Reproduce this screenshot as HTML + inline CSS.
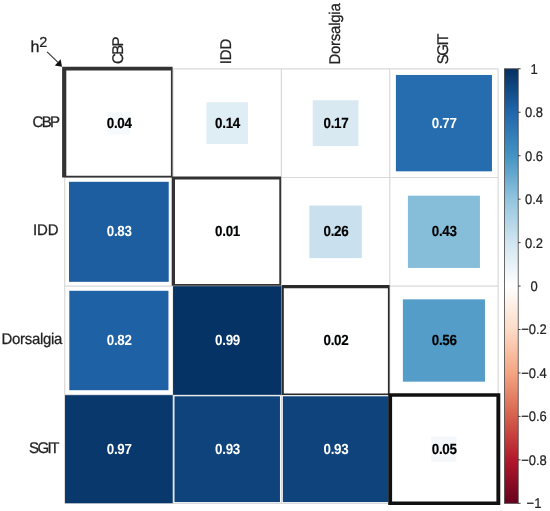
<!DOCTYPE html><html><head><meta charset="utf-8"><title>corrplot</title><style>html,body{margin:0;padding:0;background:#fff;width:550px;height:511px;overflow:hidden}</style></head><body><svg width="550" height="511" viewBox="0 0 550 511" style="position:absolute;left:0;top:0;font-family:'Liberation Sans',Arial,sans-serif;text-rendering:geometricPrecision;filter:blur(0.4px)">
<rect width="550" height="511" fill="#fff"/>
<line x1="64.70" y1="68.80" x2="64.70" y2="503.52" stroke="#d9d9d9" stroke-width="1.2"/>
<line x1="173.05" y1="68.80" x2="173.05" y2="503.52" stroke="#d9d9d9" stroke-width="1.2"/>
<line x1="281.40" y1="68.80" x2="281.40" y2="503.52" stroke="#d9d9d9" stroke-width="1.2"/>
<line x1="389.75" y1="68.80" x2="389.75" y2="503.52" stroke="#d9d9d9" stroke-width="1.2"/>
<line x1="498.10" y1="68.80" x2="498.10" y2="503.52" stroke="#d9d9d9" stroke-width="1.2"/>
<line x1="64.70" y1="68.80" x2="498.10" y2="68.80" stroke="#d9d9d9" stroke-width="1.2"/>
<line x1="64.70" y1="177.48" x2="498.10" y2="177.48" stroke="#d9d9d9" stroke-width="1.2"/>
<line x1="64.70" y1="286.16" x2="498.10" y2="286.16" stroke="#d9d9d9" stroke-width="1.2"/>
<line x1="64.70" y1="394.84" x2="498.10" y2="394.84" stroke="#d9d9d9" stroke-width="1.2"/>
<line x1="64.70" y1="503.52" x2="498.10" y2="503.52" stroke="#d9d9d9" stroke-width="1.2"/>
<rect x="107.54" y="111.77" width="22.67" height="22.74" fill="#F6FAFC"/>
<rect x="206.45" y="102.31" width="41.54" height="41.66" fill="#DFEDF4"/>
<rect x="312.74" y="100.24" width="45.67" height="45.81" fill="#D8E9F2"/>
<rect x="395.89" y="74.96" width="96.08" height="96.37" fill="#266DAF"/>
<rect x="69.02" y="181.81" width="99.71" height="100.01" fill="#1D5EA1"/>
<rect x="221.31" y="225.89" width="11.84" height="11.87" fill="#FDFEFE"/>
<rect x="309.38" y="205.54" width="52.39" height="52.55" fill="#C9E1EE"/>
<rect x="407.90" y="195.69" width="72.05" height="72.27" fill="#86BEDA"/>
<rect x="69.32" y="290.79" width="99.12" height="99.41" fill="#1E61A5"/>
<rect x="173.05" y="286.16" width="108.35" height="108.68" fill="#063365"/>
<rect x="327.41" y="332.32" width="16.32" height="16.37" fill="#FAFCFE"/>
<rect x="402.88" y="299.34" width="82.08" height="82.33" fill="#539DC8"/>
<rect x="65.02" y="395.16" width="107.71" height="108.04" fill="#09386C"/>
<rect x="174.48" y="396.28" width="105.49" height="105.81" fill="#0F437B"/>
<rect x="282.83" y="396.28" width="105.49" height="105.81" fill="#0F437B"/>
<rect x="431.31" y="436.53" width="25.23" height="25.30" fill="#F4F8FB"/>
<path fill="#333" fill-rule="evenodd" d="M62.1 66.7H172.6V177.5H62.1Z M66.3 70.4V175.8H170.9V70.4Z"/>
<path fill="#333" fill-rule="evenodd" d="M171.7 176.5H281.1V285.8H171.7Z M175.0 179.6V284.1H279.3V179.6Z"/>
<path fill="#2a2a2a" fill-rule="evenodd" d="M281.8 284.9H389.6V394.9H281.8Z M283.8 288.2V393.5H387.90000000000003V288.2Z"/>
<path fill="#111" fill-rule="evenodd" d="M388.2 393.2H500.3V505.1H388.2Z M392.09999999999997 396.8V501.5H496.40000000000003V396.8Z"/>
<text transform="translate(119.2,127.5) scale(1.03,1.13)" font-size="13" font-weight="bold" text-anchor="middle" fill="#000" stroke="#000" stroke-width="0.15" letter-spacing="-0.3">0.04</text>
<text transform="translate(227.5,127.5) scale(1.03,1.13)" font-size="13" font-weight="bold" text-anchor="middle" fill="#000" stroke="#000" stroke-width="0.15" letter-spacing="-0.3">0.14</text>
<text transform="translate(335.9,127.5) scale(1.03,1.13)" font-size="13" font-weight="bold" text-anchor="middle" fill="#000" stroke="#000" stroke-width="0.15" letter-spacing="-0.3">0.17</text>
<text transform="translate(444.2,127.5) scale(1.03,1.13)" font-size="13" font-weight="bold" text-anchor="middle" fill="#fff" stroke="#fff" stroke-width="0.0" letter-spacing="-0.3">0.77</text>
<text transform="translate(119.2,236.2) scale(1.03,1.13)" font-size="13" font-weight="bold" text-anchor="middle" fill="#fff" stroke="#fff" stroke-width="0.0" letter-spacing="-0.3">0.83</text>
<text transform="translate(227.5,236.2) scale(1.03,1.13)" font-size="13" font-weight="bold" text-anchor="middle" fill="#000" stroke="#000" stroke-width="0.15" letter-spacing="-0.3">0.01</text>
<text transform="translate(335.9,236.2) scale(1.03,1.13)" font-size="13" font-weight="bold" text-anchor="middle" fill="#000" stroke="#000" stroke-width="0.15" letter-spacing="-0.3">0.26</text>
<text transform="translate(444.2,236.2) scale(1.03,1.13)" font-size="13" font-weight="bold" text-anchor="middle" fill="#000" stroke="#000" stroke-width="0.15" letter-spacing="-0.3">0.43</text>
<text transform="translate(119.2,344.9) scale(1.03,1.13)" font-size="13" font-weight="bold" text-anchor="middle" fill="#fff" stroke="#fff" stroke-width="0.0" letter-spacing="-0.3">0.82</text>
<text transform="translate(227.5,344.9) scale(1.03,1.13)" font-size="13" font-weight="bold" text-anchor="middle" fill="#fff" stroke="#fff" stroke-width="0.0" letter-spacing="-0.3">0.99</text>
<text transform="translate(335.9,344.9) scale(1.03,1.13)" font-size="13" font-weight="bold" text-anchor="middle" fill="#000" stroke="#000" stroke-width="0.15" letter-spacing="-0.3">0.02</text>
<text transform="translate(444.2,344.9) scale(1.03,1.13)" font-size="13" font-weight="bold" text-anchor="middle" fill="#000" stroke="#000" stroke-width="0.15" letter-spacing="-0.3">0.56</text>
<text transform="translate(119.2,453.6) scale(1.03,1.13)" font-size="13" font-weight="bold" text-anchor="middle" fill="#fff" stroke="#fff" stroke-width="0.0" letter-spacing="-0.3">0.97</text>
<text transform="translate(227.5,453.6) scale(1.03,1.13)" font-size="13" font-weight="bold" text-anchor="middle" fill="#fff" stroke="#fff" stroke-width="0.0" letter-spacing="-0.3">0.93</text>
<text transform="translate(335.9,453.6) scale(1.03,1.13)" font-size="13" font-weight="bold" text-anchor="middle" fill="#fff" stroke="#fff" stroke-width="0.0" letter-spacing="-0.3">0.93</text>
<text transform="translate(444.2,453.6) scale(1.03,1.13)" font-size="13" font-weight="bold" text-anchor="middle" fill="#000" stroke="#000" stroke-width="0.15" letter-spacing="-0.3">0.05</text>
<text transform="translate(32.5,126.6) scale(1,1.03)" font-size="15" fill="#222" stroke="#222" stroke-width="0.25" letter-spacing="-1.7">CBP</text>
<text transform="translate(33.0,235.1) scale(1,1.03)" font-size="15" fill="#222" stroke="#222" stroke-width="0.25" letter-spacing="-0.1">IDD</text>
<text transform="translate(1.6,343.7) scale(1,1.03)" font-size="15" fill="#222" stroke="#222" stroke-width="0.25" letter-spacing="-0.33">Dorsalgia</text>
<text transform="translate(29.0,452.6) scale(1,1.03)" font-size="15" fill="#222" stroke="#222" stroke-width="0.25" letter-spacing="-1.55">SGIT</text>
<text transform="translate(123.0,64.0) rotate(-90) scale(1,1.03)" font-size="15" fill="#222" stroke="#222" stroke-width="0.25" letter-spacing="-1.7">CBP</text>
<text transform="translate(231.4,64.2) rotate(-90) scale(1,1.03)" font-size="15" fill="#222" stroke="#222" stroke-width="0.25" letter-spacing="-0.1">IDD</text>
<text transform="translate(340.3,64.6) rotate(-90) scale(1,1.03)" font-size="15" fill="#222" stroke="#222" stroke-width="0.25" letter-spacing="-0.25">Dorsalgia</text>
<text transform="translate(448.3,64.3) rotate(-90) scale(1,1.03)" font-size="15" fill="#222" stroke="#222" stroke-width="0.25" letter-spacing="-1.43">SGIT</text>
<text x="30.5" y="52.3" font-size="16" fill="#222" stroke="#222" stroke-width="0.3">h</text>
<text x="39.2" y="47.0" font-size="14.5" fill="#222" stroke="#222" stroke-width="0.2">2</text>
<line x1="47.1" y1="51.8" x2="58" y2="62.3" stroke="#333" stroke-width="1.1"/>
<path d="M62.0 66.8L54.8 65.4L60.6 59.3Z" fill="#111"/>
<defs><linearGradient id="cb" x1="0" y1="0" x2="0" y2="1"><stop offset="0%" stop-color="#053061"/><stop offset="10%" stop-color="#2166AC"/><stop offset="20%" stop-color="#4393C3"/><stop offset="30%" stop-color="#92C5DE"/><stop offset="40%" stop-color="#D1E5F0"/><stop offset="50%" stop-color="#FFFFFF"/><stop offset="60%" stop-color="#FDDBC7"/><stop offset="70%" stop-color="#F4A582"/><stop offset="80%" stop-color="#D6604D"/><stop offset="90%" stop-color="#B2182B"/><stop offset="100%" stop-color="#67001F"/></linearGradient></defs>
<rect x="504.5" y="68.8" width="13.7" height="434.5" fill="url(#cb)" stroke="#444" stroke-width="0.8"/>
<line x1="518" y1="68.80" x2="520.6" y2="68.80" stroke="#333" stroke-width="0.9"/>
<text transform="translate(534,73.7) scale(1,1.08)" font-size="13" text-anchor="middle" fill="#222" stroke="#222" stroke-width="0.2">1</text>
<line x1="518" y1="112.25" x2="520.6" y2="112.25" stroke="#333" stroke-width="0.9"/>
<text transform="translate(534,117.2) scale(1,1.08)" font-size="13" text-anchor="middle" fill="#222" stroke="#222" stroke-width="0.2">0.8</text>
<line x1="518" y1="155.70" x2="520.6" y2="155.70" stroke="#333" stroke-width="0.9"/>
<text transform="translate(534,160.6) scale(1,1.08)" font-size="13" text-anchor="middle" fill="#222" stroke="#222" stroke-width="0.2">0.6</text>
<line x1="518" y1="199.15" x2="520.6" y2="199.15" stroke="#333" stroke-width="0.9"/>
<text transform="translate(534,204.0) scale(1,1.08)" font-size="13" text-anchor="middle" fill="#222" stroke="#222" stroke-width="0.2">0.4</text>
<line x1="518" y1="242.60" x2="520.6" y2="242.60" stroke="#333" stroke-width="0.9"/>
<text transform="translate(534,247.5) scale(1,1.08)" font-size="13" text-anchor="middle" fill="#222" stroke="#222" stroke-width="0.2">0.2</text>
<line x1="518" y1="286.05" x2="520.6" y2="286.05" stroke="#333" stroke-width="0.9"/>
<text transform="translate(534,290.9) scale(1,1.08)" font-size="13" text-anchor="middle" fill="#222" stroke="#222" stroke-width="0.2">0</text>
<line x1="518" y1="329.50" x2="520.6" y2="329.50" stroke="#333" stroke-width="0.9"/>
<text transform="translate(534,334.4) scale(1,1.08)" font-size="13" text-anchor="middle" fill="#222" stroke="#222" stroke-width="0.2">−0.2</text>
<line x1="518" y1="372.95" x2="520.6" y2="372.95" stroke="#333" stroke-width="0.9"/>
<text transform="translate(534,377.8) scale(1,1.08)" font-size="13" text-anchor="middle" fill="#222" stroke="#222" stroke-width="0.2">−0.4</text>
<line x1="518" y1="416.40" x2="520.6" y2="416.40" stroke="#333" stroke-width="0.9"/>
<text transform="translate(534,421.3) scale(1,1.08)" font-size="13" text-anchor="middle" fill="#222" stroke="#222" stroke-width="0.2">−0.6</text>
<line x1="518" y1="459.85" x2="520.6" y2="459.85" stroke="#333" stroke-width="0.9"/>
<text transform="translate(534,464.8) scale(1,1.08)" font-size="13" text-anchor="middle" fill="#222" stroke="#222" stroke-width="0.2">−0.8</text>
<line x1="518" y1="503.30" x2="520.6" y2="503.30" stroke="#333" stroke-width="0.9"/>
<text transform="translate(534,508.2) scale(1,1.08)" font-size="13" text-anchor="middle" fill="#222" stroke="#222" stroke-width="0.2">−1</text>
</svg></body></html>
